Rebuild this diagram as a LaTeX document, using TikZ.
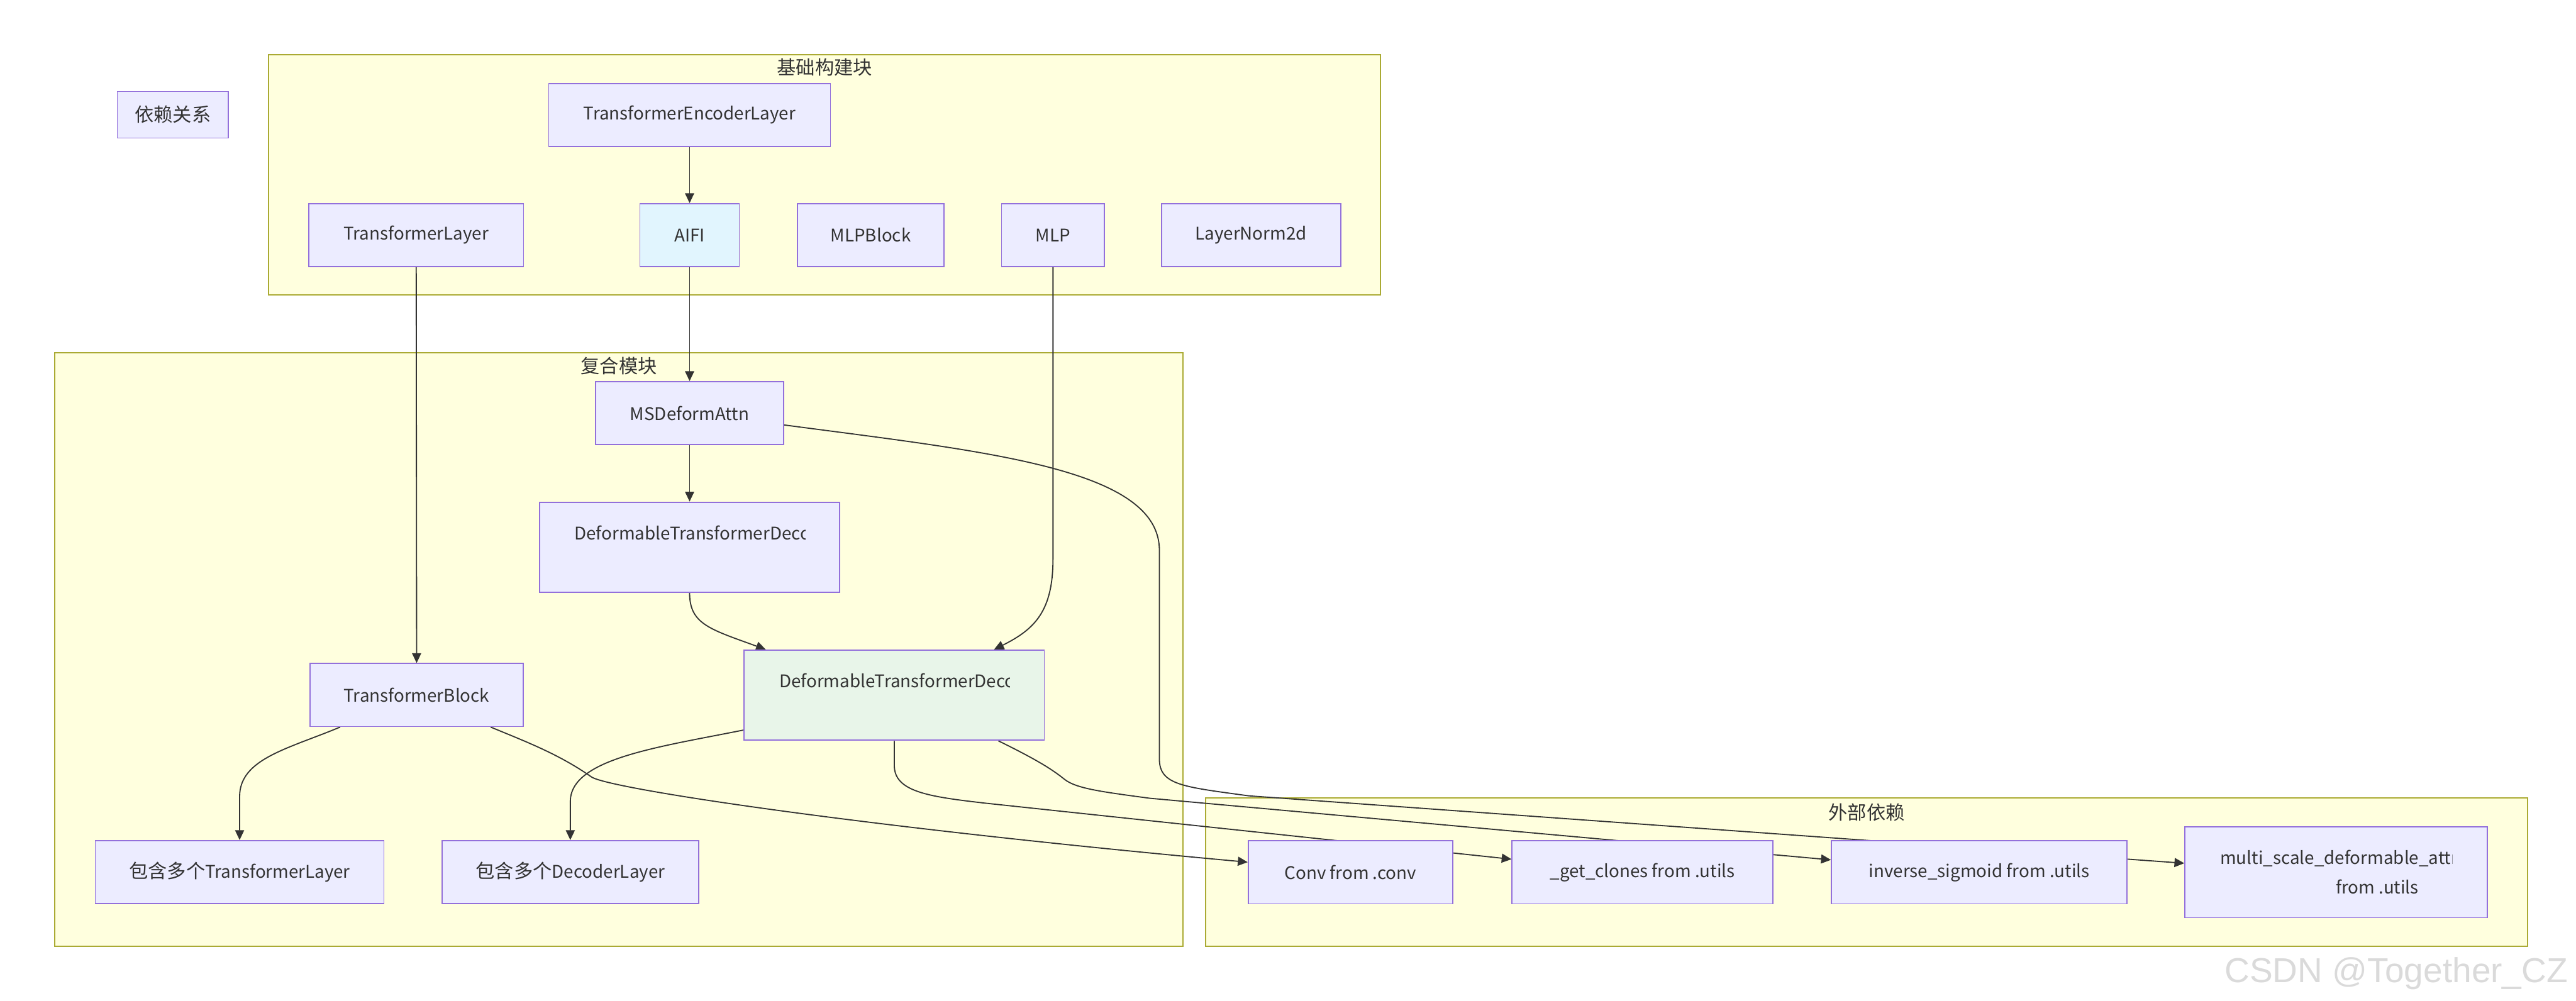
\documentclass[tikz,border=0pt]{standalone}
\usepackage{fontspec}
\setmainfont{Noto Sans CJK SC}
\newfontfamily\wmfont{Liberation Sans}
\usepackage{tikz}
\usetikzlibrary{arrows.meta,positioning,calc}
\usepackage{xcolor}

\definecolor{boxfill}{HTML}{ECECFF}
\definecolor{boxline}{HTML}{9370DB}
\definecolor{grpfill}{HTML}{FFFFDE}
\definecolor{grpline}{HTML}{AAAA33}
\definecolor{ink}{HTML}{333333}
\definecolor{aififill}{HTML}{E1F5FE}
\definecolor{decfill}{HTML}{E8F5E9}
\definecolor{wmgray}{HTML}{DADADA}

% Chinese glyphs a little larger than the Latin ones
\newcommand{\zh}[1]{{\fontsize{6.6}{8}\selectfont #1}}

\pgfdeclarelayer{bg}
\pgfdeclarelayer{edges}
\pgfsetlayers{bg,edges,main}

\begin{document}
\begin{tikzpicture}[x=0.02cm,y=-0.02cm,
  box/.style={draw=boxline,fill=boxfill,line width=0.4pt,inner sep=0pt,
    minimum height=0.766cm,font=\fontsize{6.05}{8}\selectfont,text=ink},
  lbl/.style={inner sep=0pt,font=\fontsize{6.05}{8}\selectfont,text=ink},
  grpbox/.style={draw=grpline,fill=grpfill,line width=0.4pt},
  conn/.style={draw=ink,line width=0.4pt,-{Triangle[length=1.2mm,width=1.1mm]}}]
\useasboundingbox (0,0) rectangle (1568,609.4);

% subgraphs
\begin{pgfonlayer}{bg}
  \draw[grpbox] (163.6,33.3) rectangle (840.3,179.5);
  \draw[grpbox] (33.3,214.9) rectangle (720.2,576);
  \draw[grpbox] (733.9,485.9) rectangle (1538.4,576);
\end{pgfonlayer}
\node[lbl] (basic-t) at (502,40.8) {\zh{基础构建块}};
\node[lbl] (comp-t) at (376.7,222.7) {\zh{复合模块}};
\node[lbl] (ext-t) at (1136.2,494.4) {\zh{外部依赖}};

\node[box,minimum width=1.352cm,minimum height=0.566cm] (dep) at (105.2,69.85) {\zh{依赖关系}};

% basic blocks
\node[box,minimum width=3.43cm] (tel) at (419.75,70) {TransformerEncoderLayer};
\node[box,minimum width=2.614cm] (tl) at (253.35,143.15) {TransformerLayer};
\node[box,fill=aififill,minimum width=1.21cm] (aifi) at (419.75,143.15) {AIFI};
\node[box,minimum width=1.784cm] (mlpb) at (530,143.15) {MLPBlock};
\node[box,minimum width=1.254cm] (mlp) at (640.95,143.15) {MLP};
\node[box,minimum width=2.18cm] (ln) at (761.5,143.15) {LayerNorm2d};

% composite blocks
\node[box,minimum width=2.284cm] (msda) at (419.75,251.5) {MSDeformAttn};
\node[box,minimum width=3.658cm,minimum height=1.098cm] (dtdl) at (419.75,333.15) {};
\node[box,fill=decfill,minimum width=3.654cm,minimum height=1.098cm] (dtd) at (544.35,423.25) {};
\node[box,minimum width=2.596cm] (tb) at (253.6,423.15) {TransformerBlock};
\node[box,minimum width=3.514cm] (inctl) at (145.85,530.9) {\zh{包含多个}TransformerLayer};
\node[box,minimum width=3.126cm] (incdl) at (347.15,530.9) {\zh{包含多个}DecoderLayer};

% external
\node[box,minimum width=2.488cm] (conv) at (822,531.1) {Conv from .conv};
\node[box,minimum width=3.176cm] (clones) at (999.8,531.1) {\_get\_clones from .utils};
\node[box,minimum width=3.6cm] (invsig) at (1204.8,531.1) {inverse\_sigmoid from .utils};
\node[box,minimum width=3.682cm,minimum height=1.106cm] (msattn) at (1421.95,531.05) {};

\begin{scope}
  \clip ($(dtdl.north west)+(21.3,0)$) rectangle ($(dtdl.south east)+(-21.3,0)$);
  \node[lbl,anchor=west] (dtdl-t) at ($(dtdl.north west)+(21.3,19)$) {DeformableTransformerDecoder};
\end{scope}
\begin{scope}
  \clip ($(dtd.north west)+(21.3,0)$) rectangle ($(dtd.south east)+(-21.3,0)$);
  \node[lbl,anchor=west] (dtd-t) at ($(dtd.north west)+(21.3,19)$) {DeformableTransformerDecoder};
\end{scope}
\begin{scope}
  \clip ($(msattn.north west)+(21.5,0)$) rectangle ($(msattn.south east)+(-21.5,0)$);
  \node[lbl,anchor=west] (msattn-t) at ($(msattn.north west)+(21.5,19.6)$) {multi\_scale\_deformable\_attn};
\end{scope}
\node[lbl] (msattn-u) at (1447,539.8) {from .utils};

% dependencies
\begin{pgfonlayer}{edges}
  \draw[conn] (tel.south) -- (aifi.north);
  \draw[conn] (aifi.south) -- (msda.north);
  \draw[conn] (tl.south) -- (tb.north);
  \draw[conn] (msda.south) -- (dtdl.north);
  \draw[conn] (dtdl.south) .. controls (419.75,380) and (432,383) .. ($(dtd.north west)+(13.5,0)$);
  \draw[conn] (mlp.south) -- (640.95,340) .. controls (640.95,372) and (630,383) .. ($(dtd.north east)+(-31,0)$);
  \draw[conn] ($(tb.south west)+(18.7,0)$) .. controls (175,456) and (145.85,462) .. (145.85,485) -- (inctl.north);
  \draw[conn] ($(dtd.south west)+(0,-6.6)$) .. controls (400,455) and (347.15,462) .. (347.15,488) -- (incdl.north);
  \draw[conn] ($(tb.south west)+(110.3,0)$) .. controls (320,451.5) and (340,459) .. (360,473)
    .. controls (370,480) and (520,503) .. ($(conv.west)+(0,-6.2)$);
  \draw[conn] (dtd.south) -- (544.35,466) .. controls (544.35,482) and (565,485) .. (600,489)
    -- ($(clones.west)+(0,-8)$);
  \draw[conn] ($(dtd.south east)+(-28.3,0)$) .. controls (630,462) and (640,468) .. (648,474.5)
    .. controls (655,480) and (670,482) .. (700,486) -- ($(invsig.west)+(0,-7.6)$);
  \draw[conn] ($(msda.east)+(0,7.2)$) .. controls (600,275) and (705.7,285) .. (705.7,335)
    -- (705.7,462) .. controls (705.7,478) and (720,479) .. (760,484.5) -- ($(msattn.west)+(0,-5.5)$);
\end{pgfonlayer}

\node[anchor=base west,inner sep=0pt,text=wmgray,font=\wmfont\fontsize{12}{14}\selectfont] (wmark) at (1353.8,598) {CSDN @Together\_CZ};
\end{tikzpicture}
\end{document}
